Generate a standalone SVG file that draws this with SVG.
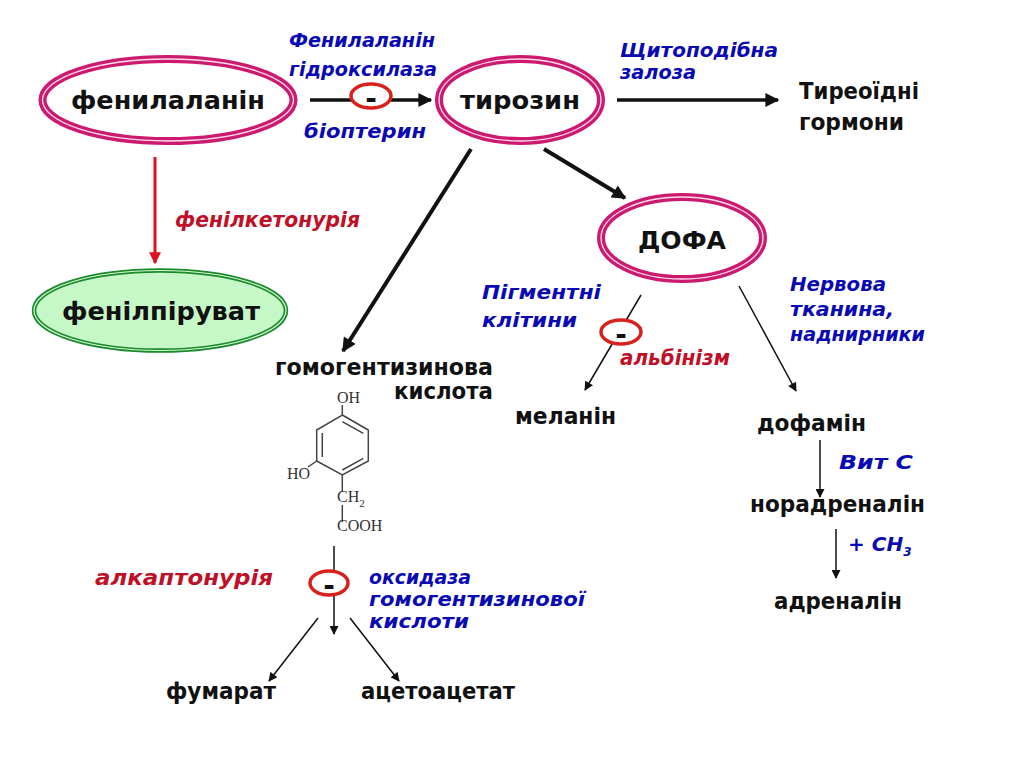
<svg xmlns="http://www.w3.org/2000/svg" width="1024" height="767" viewBox="0 0 1024 767">
<style>
text{font-family:"DejaVu Sans","Liberation Sans",sans-serif;font-weight:700}
.k{fill:#111;font-size:25px}
.m{fill:#111;font-size:22.5px}
.b{fill:#0a0ab4;font-style:italic;font-size:20px}
.b2{fill:#0a0ab4;font-style:italic;font-size:18.8px}
.r{fill:#c01028;font-style:italic;font-size:20.5px}
.p1{fill:#fff;stroke:#cc1a70;stroke-width:8}
.p2{fill:none;stroke:#fbdcea;stroke-width:1.3}
.i{fill:#fff;stroke:#d8201c;stroke-width:3.5}
.minus{fill:#111;font-size:28px}
.c{stroke:#111;fill:none}
.s{stroke:#444;fill:none;stroke-width:1.5}
.f{font-family:"Liberation Serif",serif;font-weight:400;font-size:16px;fill:#333}
</style>
<defs>
<marker id="a" viewBox="0 0 10 10" refX="9" refY="5" markerWidth="15" markerHeight="14" markerUnits="userSpaceOnUse" orient="auto"><path d="M0 0L10 5L0 10z" fill="#111"/></marker>
<marker id="l" viewBox="0 0 10 10" refX="9" refY="5" markerWidth="10" markerHeight="9" markerUnits="userSpaceOnUse" orient="auto"><path d="M0 0L10 5L0 10z" fill="#111"/></marker>
<marker id="rd" viewBox="0 0 10 10" refX="9" refY="5" markerWidth="13" markerHeight="12" markerUnits="userSpaceOnUse" orient="auto"><path d="M0 0L10 5L0 10z" fill="#e01020"/></marker>
</defs>
<rect width="1024" height="767" fill="#fff"/>
<g id="connectors">
<path class="c" stroke-width="3.5" d="M310 100H431" marker-end="url(#a)"/>
<path class="c" stroke-width="3.5" d="M617 100H778" marker-end="url(#a)"/>
<path class="c" stroke-width="4" d="M471 149L343 351" marker-end="url(#a)"/>
<path class="c" stroke-width="4" d="M544 149L625 198" marker-end="url(#a)"/>
<path fill="none" stroke="#e01020" stroke-width="3" d="M155 157V263" marker-end="url(#rd)"/>
<path class="c" stroke-width="1.5" d="M641 295L585 390" marker-end="url(#l)"/>
<path class="c" stroke-width="1.5" d="M739 286L796 391" marker-end="url(#l)"/>
<path class="c" stroke-width="1.5" d="M820 440V497" marker-end="url(#l)"/>
<path class="c" stroke-width="1.5" d="M836 529V578" marker-end="url(#l)"/>
<path class="c" stroke-width="1.5" d="M334 546V634" marker-end="url(#l)"/>
<path class="c" stroke-width="1.5" d="M318 618L269 681" marker-end="url(#l)"/>
<path class="c" stroke-width="1.5" d="M350 618L399 681" marker-end="url(#l)"/>
</g>
<g id="node-phenylalanine">
<ellipse class="p1" cx="168" cy="100" rx="125.5" ry="41"/><ellipse class="p2" cx="168" cy="100" rx="125.5" ry="41"/>
<text class="k" x="168" y="109" text-anchor="middle" textLength="194" lengthAdjust="spacingAndGlyphs">фенилаланін</text>
</g>
<g id="node-tyrosine">
<ellipse class="p1" cx="520" cy="100" rx="81" ry="41"/><ellipse class="p2" cx="520" cy="100" rx="81" ry="41"/>
<text class="k" x="520" y="109" text-anchor="middle" textLength="120" lengthAdjust="spacingAndGlyphs">тирозин</text>
</g>
<g id="node-dopa">
<ellipse class="p1" cx="682" cy="238" rx="81" ry="41"/><ellipse class="p2" cx="682" cy="238" rx="81" ry="41"/>
<text class="k" x="682" y="249" text-anchor="middle" textLength="88" lengthAdjust="spacingAndGlyphs">ДОФА</text>
</g>
<g id="node-phenylpyruvate">
<ellipse cx="160" cy="310.5" rx="126" ry="40" fill="#c6f7c6" stroke="#1a8a2a" stroke-width="4.5"/>
<ellipse cx="160" cy="310.5" rx="126" ry="40" fill="none" stroke="#d8f8d8" stroke-width="1.2"/>
<text class="k" x="161" y="320" text-anchor="middle" textLength="198" lengthAdjust="spacingAndGlyphs">фенілпіруват</text>
</g>
<g id="inhibitors">
<ellipse class="i" cx="371" cy="96" rx="20" ry="12"/><text class="minus" x="371" y="108" text-anchor="middle">-</text>
<ellipse class="i" cx="621" cy="332" rx="20" ry="12"/><text class="minus" x="621" y="344" text-anchor="middle">-</text>
<ellipse class="i" cx="329" cy="583" rx="19" ry="12"/><text class="minus" x="329" y="595" text-anchor="middle">-</text>
</g>
<g id="labels">
<text class="b" x="289" y="47" textLength="146" lengthAdjust="spacingAndGlyphs">Фенилаланін</text>
<text class="b" x="289" y="76" textLength="148" lengthAdjust="spacingAndGlyphs">гідроксилаза</text>
<text class="b" x="304" y="138" textLength="122" lengthAdjust="spacingAndGlyphs">біоптерин</text>
<text class="b" x="620" y="57" textLength="158" lengthAdjust="spacingAndGlyphs">Щитоподібна</text>
<text class="b" x="620" y="79" textLength="76" lengthAdjust="spacingAndGlyphs">залоза</text>
<text class="m" x="799" y="99" textLength="120" lengthAdjust="spacingAndGlyphs">Тиреоїдні</text>
<text class="m" x="799" y="130" textLength="105" lengthAdjust="spacingAndGlyphs">гормони</text>
<text class="r" x="175" y="227" textLength="185" lengthAdjust="spacingAndGlyphs">фенілкетонурія</text>
<text class="b" x="482" y="299" textLength="119" lengthAdjust="spacingAndGlyphs">Пігментні</text>
<text class="b" x="482" y="327" textLength="95" lengthAdjust="spacingAndGlyphs">клітини</text>
<text class="r" x="620" y="365" textLength="110" lengthAdjust="spacingAndGlyphs">альбінізм</text>
<text class="b" x="790" y="291" textLength="96" lengthAdjust="spacingAndGlyphs">Нервова</text>
<text class="b" x="790" y="316" textLength="104" lengthAdjust="spacingAndGlyphs">тканина,</text>
<text class="b" x="790" y="341" textLength="135" lengthAdjust="spacingAndGlyphs">наднирники</text>
<text class="m" x="275" y="375" textLength="218" lengthAdjust="spacingAndGlyphs">гомогентизинова</text>
<text class="m" x="394" y="399" textLength="99" lengthAdjust="spacingAndGlyphs">кислота</text>
<text class="m" x="515" y="424" textLength="101" lengthAdjust="spacingAndGlyphs">меланін</text>
<text class="m" x="757" y="431" textLength="109" lengthAdjust="spacingAndGlyphs">дофамін</text>
<text class="b" x="839" y="469" textLength="74" lengthAdjust="spacingAndGlyphs">Вит С</text>
<text class="m" x="750" y="512" textLength="175" lengthAdjust="spacingAndGlyphs">норадреналін</text>
<text class="b" x="848" y="551">+ СН<tspan dy="5" style="font-size:12px">3</tspan></text>
<text class="m" x="774" y="609" textLength="128" lengthAdjust="spacingAndGlyphs">адреналін</text>
<text class="r" x="95" y="585" textLength="178" lengthAdjust="spacingAndGlyphs">алкаптонурія</text>
<text class="b2" x="369" y="584" textLength="102" lengthAdjust="spacingAndGlyphs">оксидаза</text>
<text class="b2" x="369" y="606" textLength="216" lengthAdjust="spacingAndGlyphs">гомогентизинової</text>
<text class="b2" x="369" y="628" textLength="100" lengthAdjust="spacingAndGlyphs">кислоти</text>
<text class="m" x="166" y="699" textLength="110" lengthAdjust="spacingAndGlyphs">фумарат</text>
<text class="m" x="361" y="699" textLength="154" lengthAdjust="spacingAndGlyphs">ацетоацетат</text>
</g>
<g id="structure">
<path class="s" d="M342.3 415L368.3 430V461L342.3 475L316.7 461V430ZM322.3 433V457M342.3 421.7L363.3 433.3M342.3 470L363.3 458.3M342.3 415V405M316.7 461L308 467M342.3 475V491.7M342.3 505V522"/>
<text class="f" x="337" y="403">OH</text>
<text class="f" x="287" y="479">HO</text>
<text class="f" x="337" y="502">CH<tspan dy="5" style="font-size:11px">2</tspan></text>
<text class="f" x="337" y="531">COOH</text>
</g>
</svg>
